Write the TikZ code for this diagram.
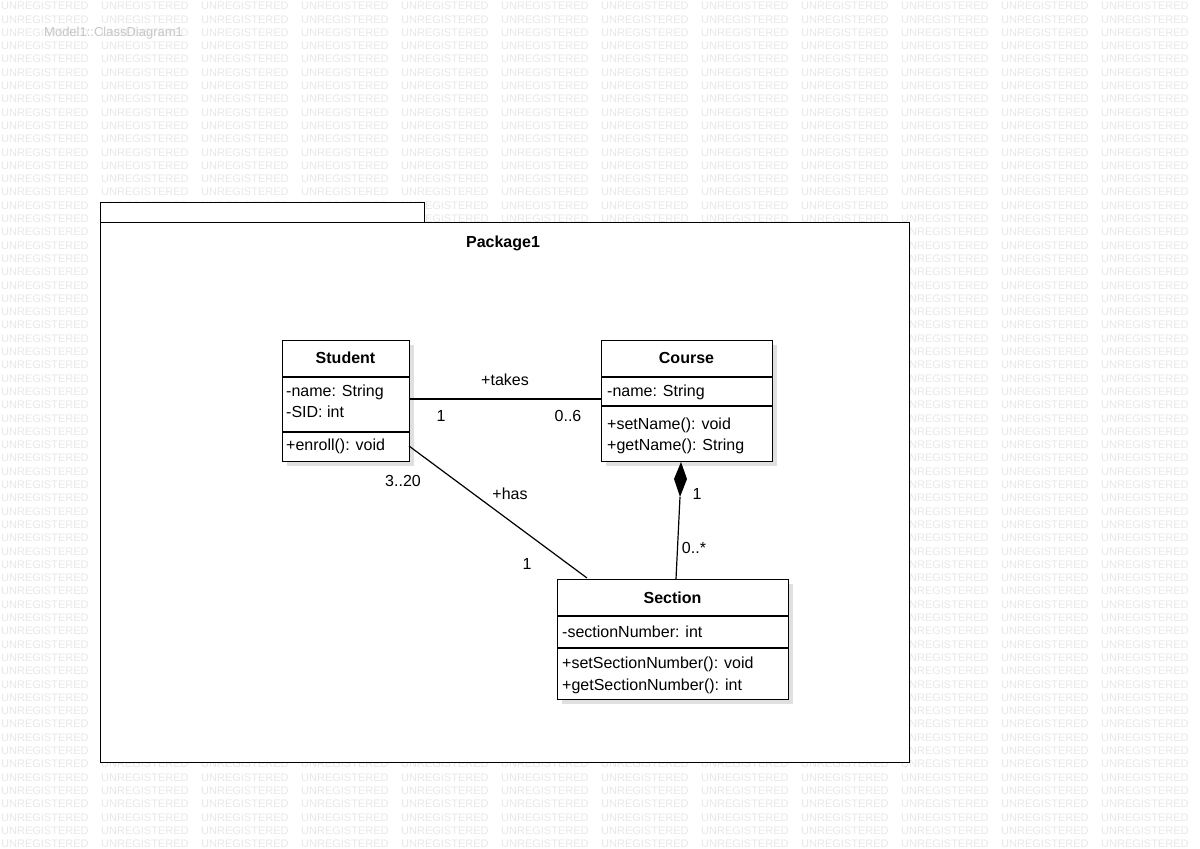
\documentclass[tikz,border=0pt]{standalone}
\usepackage{fontspec}
\setmainfont{Liberation Sans}
\begin{document}
\begin{tikzpicture}[x=1pt,y=-1pt,
  wm/.style={anchor=west,inner sep=0,text=black!9,font=\fontsize{11}{12}\selectfont},
  lbl/.style={inner sep=0,font=\fontsize{16}{18}\selectfont},
  ttl/.style={inner sep=0,font=\fontsize{16}{18}\selectfont\bfseries},
  box/.style={draw=black,fill=white,line width=1pt},
  shd/.style={fill=black!12,draw=none},
  ln/.style={line width=1.2pt}]
\fill[white] (0,0) rectangle (1200,849);
\useasboundingbox (0,0) rectangle (1200,849);
\foreach \r in {0,...,63}{\foreach \c in {0,...,11}{
  \node[wm] at (\c*100+1,6+\r*13.3) {UNREGISTERED};}}
\node[wm,text=black!22,font=\fontsize{13}{14}\selectfont] (mdl) at (44,33) {Model1::ClassDiagram1};
% package
\draw[box] (100,202) rectangle (424,222);
\draw[box] (100,222) rectangle (909,762);
\node[ttl] (pkg) at (503,243) {Package1};
% Student
\fill[shd] (287,345) rectangle (414,466);
\draw[box] (282,340) rectangle (409,461);
\node[minimum width=127,minimum height=121,anchor=north west,inner sep=0] (st) at (282,340) {};
\draw[ln] (282,377) -- (409,377) (282,432) -- (409,432);
\node[ttl] at (345.5,358) {Student};
\node[lbl,anchor=west] at (286,392) {-name: String};
\node[lbl,anchor=west] at (286,412) {-SID: int};
\node[lbl,anchor=west] at (286,446) {+enroll(): void};
% Course
\fill[shd] (606,345) rectangle (777,466);
\draw[box] (601,340) rectangle (772,461);
\node[minimum width=171,minimum height=121,anchor=north west,inner sep=0] (co) at (601,340) {};
\draw[ln] (601,377) -- (772,377) (601,406) -- (772,406);
\node[ttl] at (686.5,358) {Course};
\node[lbl,anchor=west] at (607,392) {-name: String};
\node[lbl,anchor=west] at (607,425) {+setName(): void};
\node[lbl,anchor=west] at (607,446) {+getName(): String};
% Section
\fill[shd] (562,584) rectangle (793,704);
\draw[box] (557,579) rectangle (788,699);
\node[minimum width=231,minimum height=120,anchor=north west,inner sep=0] (se) at (557,579) {};
\draw[ln] (557,616) -- (788,616) (557,648) -- (788,648);
\node[ttl] at (672.5,598) {Section};
\node[lbl,anchor=west] at (562,632) {-sectionNumber: int};
\node[lbl,anchor=west] at (562,664) {+setSectionNumber(): void};
\node[lbl,anchor=west] at (562,686) {+getSectionNumber(): int};
% connectors
\coordinate (a1) at (409,399); \coordinate (a2) at (601,399);
\draw[ln] (a1) -- (a2);
\node[lbl] at (505,380) {+takes};
\node[lbl] at (441,416) {1};
\node[lbl] at (568,416) {0..6};
\coordinate (b1) at (409,446); \coordinate (b2) at (587,578);
\draw[ln] (b1) -- (b2);
\node[lbl] at (510,494) {+has};
\node[lbl] at (403,481) {3..20};
\node[lbl] at (527,564) {1};
\coordinate (c1) at (681,462); \coordinate (c2) at (676,579);
\fill (681,462) -- (687,479) -- (680,497) -- (674,479) -- cycle;
\draw[ln] (680,497) -- (c2);
\node[lbl] at (697,494) {1};
\node[lbl] at (694,548) {0..*};
\end{tikzpicture}
\end{document}
